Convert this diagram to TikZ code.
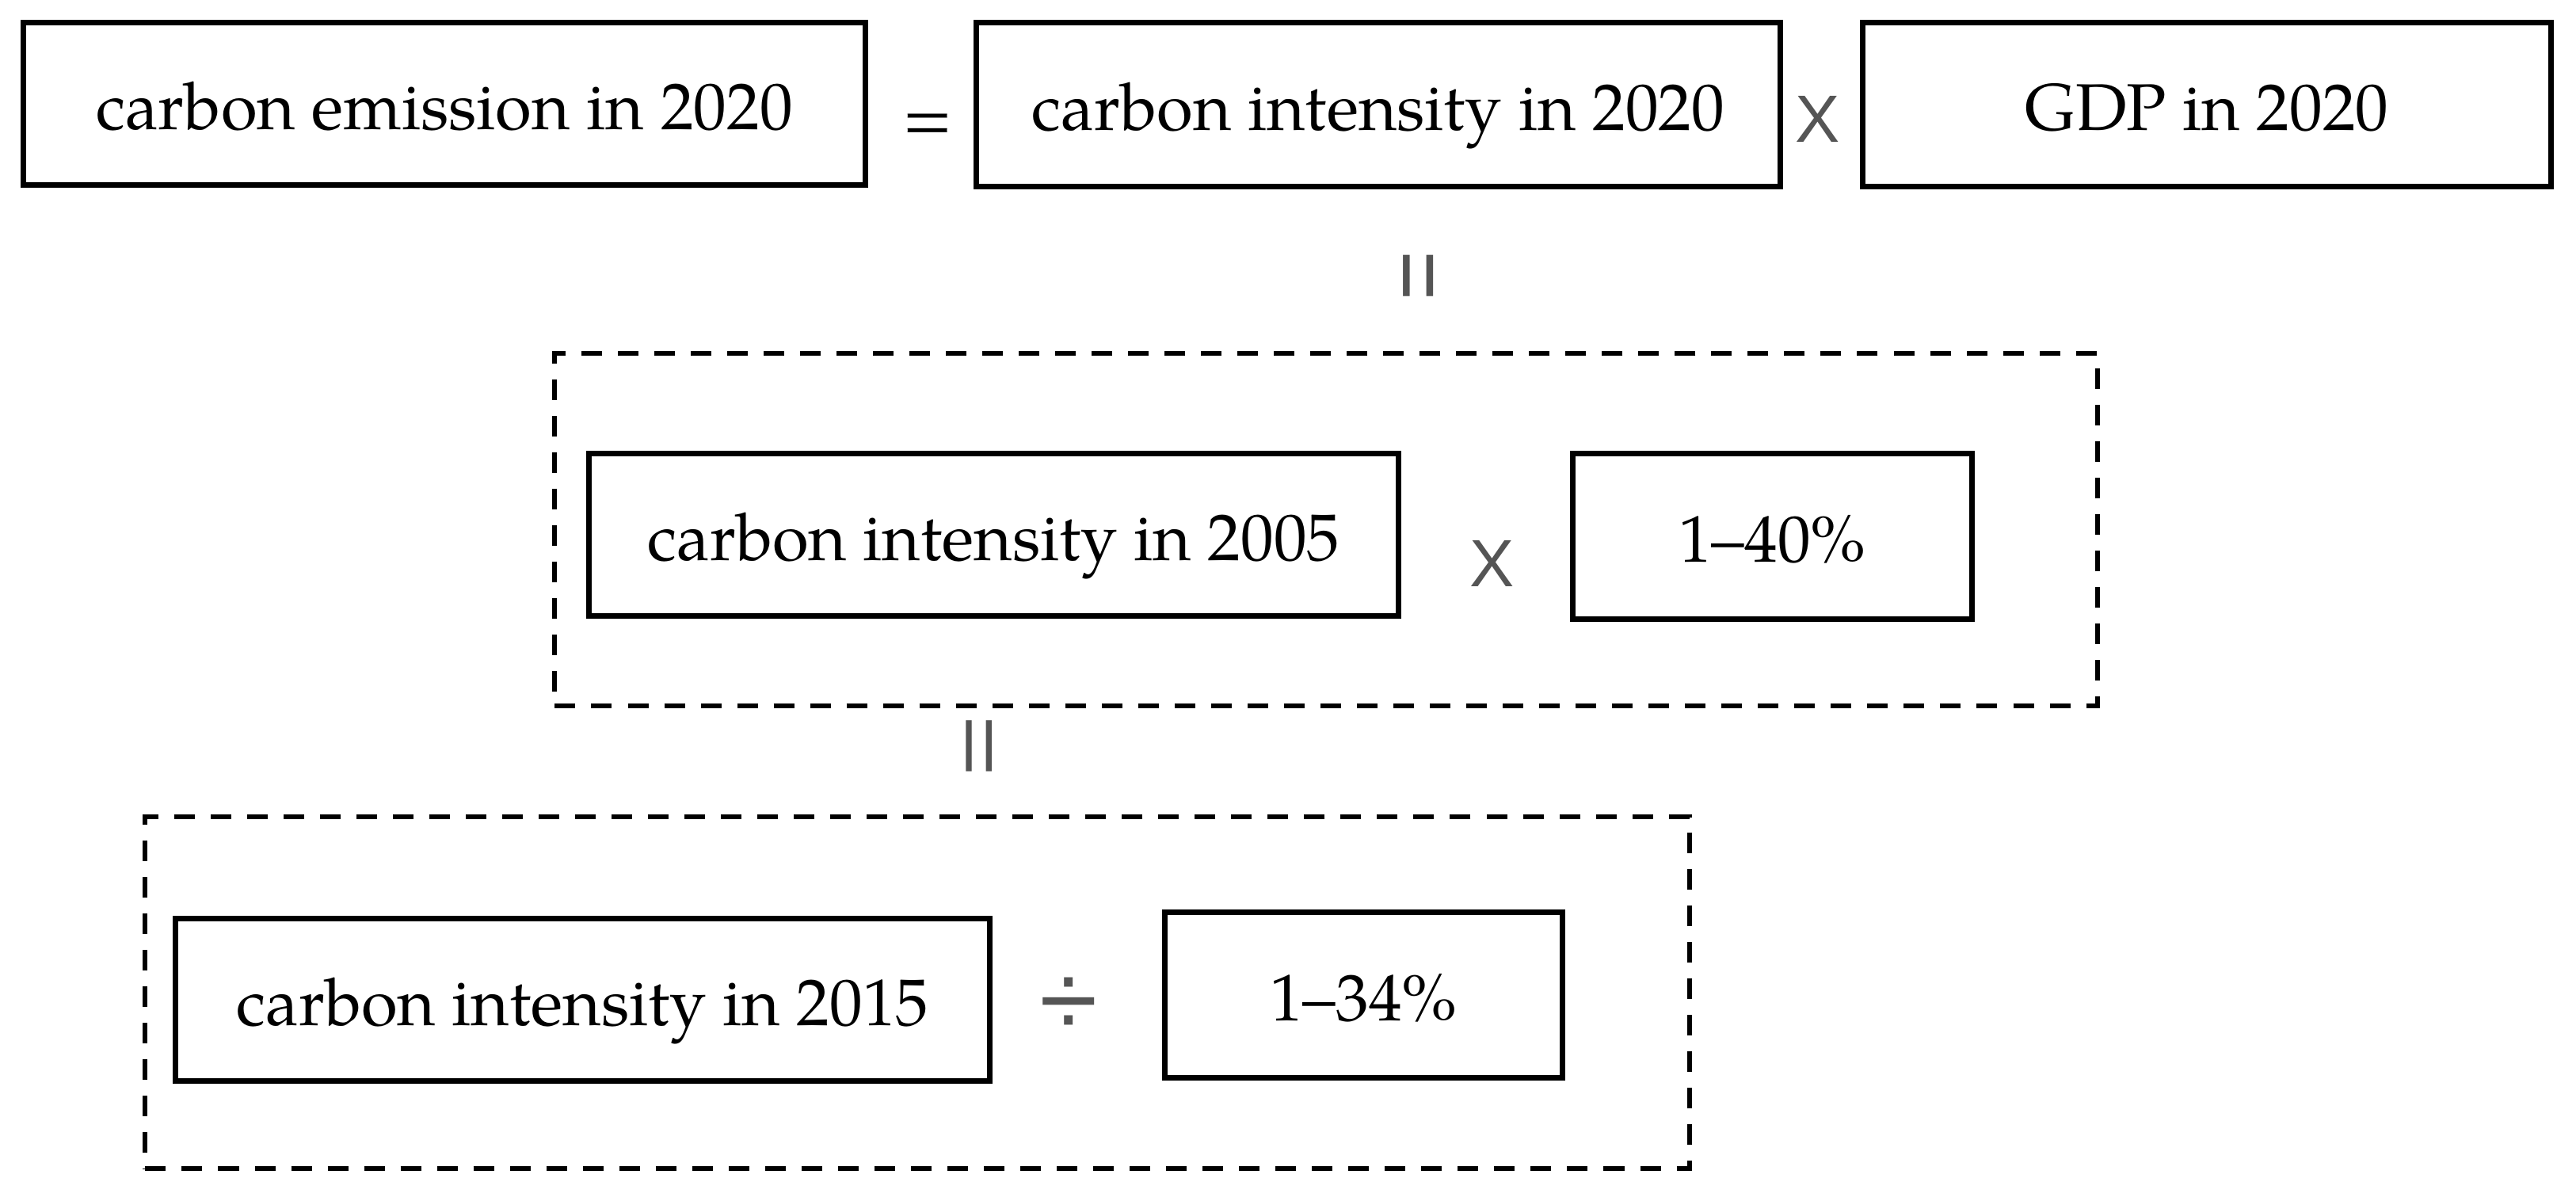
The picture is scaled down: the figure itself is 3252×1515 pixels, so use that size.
\documentclass[tikz,border=0pt]{standalone}
\usepackage{fontspec}
\usepackage{graphicx}
\setmainfont{TeX Gyre Pagella}
\newfontfamily\opfont{Liberation Sans}
\newcommand\palfont{\rmfamily\fontsize{23.7}{28}\selectfont}
\definecolor{opgray}{RGB}{85,85,85}
\tikzset{
  box/.style={draw, line width=0.07cm, rectangle, inner sep=0pt, font=\palfont, text height=0.64cm, text depth=0cm},
  dbox/.style={draw, line width=0.06cm, dash pattern=on 0.26cm off 0.2cm, rectangle, inner sep=0pt},
  op/.style={text=opgray, inner sep=0pt, font=\opfont\fontsize{24}{28}\selectfont},
}
\begin{document}
\begin{tikzpicture}[x=0.01cm, y=-0.01cm]
\useasboundingbox (0,0) rectangle (3252,1515);
% row 1
\node[box, minimum width=10.62cm, minimum height=2.04cm] (b1) at (561,131) {carbon emission in 2020};
\node[box, minimum width=10.14cm, minimum height=2.06cm] (b2) at (1740,132) {carbon intensity in 2020};
\node[box, minimum width=8.68cm, minimum height=2.06cm] (b3) at (2786,132) {GDP in 2020};
\node[inner sep=0pt, font=\palfont] (eq1) at (1171,160) {=};
\node[op] (x1) at (2295,150) {X};
\node[op, rotate=90] (eq2) at (1801,348) {\scalebox{1.27}[1.4]{=}};
% group 2
\node[dbox, minimum width=19.46cm, minimum height=4.45cm] (d1) at (1674,668.5) {};
\node[box, minimum width=10.21cm, minimum height=2.04cm] (b4) at (1254.5,675) {carbon intensity in 2005};
\node[box, minimum width=5.03cm, minimum height=2.08cm] (b5) at (2237.5,677) {1–40\%};
\node[op] (x2) at (1884,711) {X};
\node[op, rotate=90] (eq3) at (1245,942) {\scalebox{1.57}[1.2]{=}};
% group 3
\node[dbox, minimum width=19.48cm, minimum height=4.44cm] (d2) at (1158,1253) {};
\node[box, minimum width=10.27cm, minimum height=2.04cm] (b6) at (735.5,1262) {carbon intensity in 2015};
\node[box, minimum width=5.01cm, minimum height=2.08cm] (b7) at (1721.5,1256) {1–34\%};
\node[op, font=\opfont\fontsize{38}{44}\selectfont] (div) at (1349,1271) {÷};
\end{tikzpicture}
\end{document}
